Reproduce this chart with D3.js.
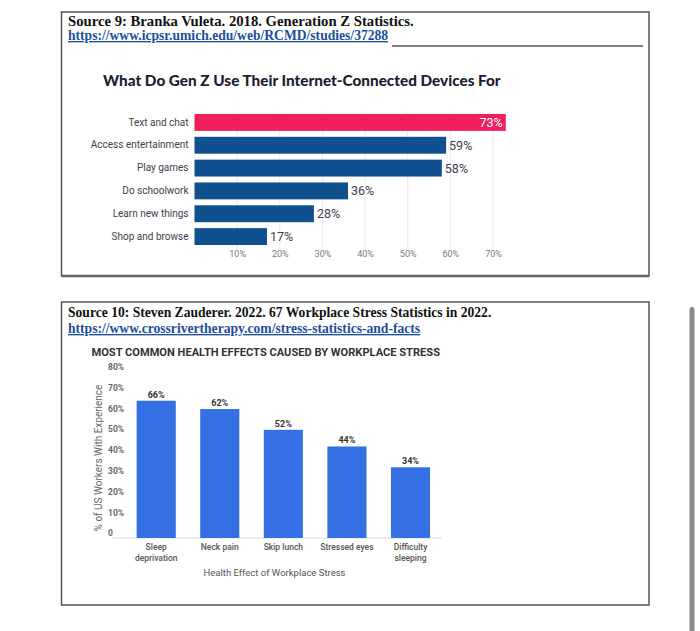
<!DOCTYPE html>
<html>
<head>
<meta charset="utf-8">
<script src="https://cdn.jsdelivr.net/npm/d3@7"></script>
<style>
  body { margin: 0; background: #fff; }
  svg { display: block; }
  .src { font-family: "Liberation Serif", "Times New Roman", serif; font-weight: bold; font-size: 13.6px; fill: #111; }
  .url { font-family: "Liberation Serif", "Times New Roman", serif; font-weight: bold; font-size: 13.6px; fill: #1f4e9c; text-decoration: underline; }
  .frame { fill: none; stroke: #555; stroke-width: 1.5; }
</style>
</head>
<body>
<div id="container"></div>
<script>
// Chart 1: what Gen Z use their devices for (percent)
var uses = ["Text and chat", "Access entertainment", "Play games", "Do schoolwork", "Learn new things", "Shop and browse"]
var useShare = [73, 59, 58, 36, 28, 17]
var useTicks = [10, 20, 30, 40, 50, 60, 70]

// Chart 2: health effects of workplace stress (percent)
var effects = ["Sleep deprivation", "Neck pain", "Skip lunch", "Stressed eyes", "Difficulty sleeping"]
var effectLines = [["Sleep", "deprivation"], ["Neck pain"], ["Skip lunch"], ["Stressed eyes"], ["Difficulty", "sleeping"]]
var effectShare = [66, 62, 52, 44, 34]
var effectTicks = [0, 10, 20, 30, 40, 50, 60, 70, 80]

var width = 700;
var height = 631;

var svg = d3.select("#container")
            .append("svg")
            .attr("width", width)
            .attr("height", height)

// ---------- frames and source captions ----------
svg.append("rect").attr("class", "frame").attr("x", 61.5).attr("y", 12).attr("width", 587.5).attr("height", 264)
svg.append("line").attr("x1", 62).attr("x2", 649).attr("y1", 276).attr("y2", 276).attr("stroke", "#666").attr("stroke-width", 2.5)
svg.append("line").attr("x1", 392).attr("x2", 643).attr("y1", 46).attr("y2", 46).attr("stroke", "#555").attr("stroke-width", 1.5)

svg.append("text").attr("class", "src").attr("x", 68).attr("y", 26).style("font-size", "14.7px").text("Source 9: Branka Vuleta. 2018. Generation Z Statistics.")
svg.append("text").attr("class", "url").attr("x", 68).attr("y", 40).text("https://www.icpsr.umich.edu/web/RCMD/studies/37288")

svg.append("rect").attr("class", "frame").attr("x", 61.5).attr("y", 302).attr("width", 587.5).attr("height", 303)
svg.append("text").attr("class", "src").attr("x", 68).attr("y", 317).text("Source 10: Steven Zauderer. 2022. 67 Workplace Stress Statistics in 2022.")
svg.append("text").attr("class", "url").attr("x", 68).attr("y", 333).text("https://www.crossrivertherapy.com/stress-statistics-and-facts")

// scrollbar of the screenshot
svg.append("rect").attr("x", 689.5).attr("y", 307).attr("width", 5).attr("height", 330).attr("rx", 2.5).attr("fill", "#8a8a8a")

// ---------- chart 1: horizontal bars ----------
svg.append("text")
   .attr("x", 103).attr("y", 86)
   .style("font-family", "Lato, 'Open Sans', sans-serif")
   .style("font-weight", "900")
   .style("font-size", "15.3px")
   .style("fill", "#1b1d33")
   .text("What Do Gen Z Use Their Internet-Connected Devices For")

var xScale = d3.scaleLinear().domain([0, 70]).range([194.5, 493])
var yScale = d3.scaleBand().domain(uses).range([111, 248]).paddingInner(0.26).paddingOuter(0.13)

var g1 = svg.append("g").style("font-family", "Roboto, sans-serif")

// vertical grid lines
g1.selectAll(".grid")
  .data(useTicks)
  .enter()
  .append("line")
  .attr("x1", (d) => xScale(d)).attr("x2", (d) => xScale(d))
  .attr("y1", 111).attr("y2", 249)
  .attr("stroke", "#e6e6e6").attr("stroke-width", 0.8)

var xAxis = d3.axisBottom(xScale).tickValues(useTicks).tickFormat((d) => d + "%").tickSize(0).tickPadding(0)
var xg = g1.append("g").attr("transform", "translate(0, 251)").call(xAxis)
xg.select(".domain").remove()
xg.selectAll("text").style("font-size", "9px").style("fill", "#7a7a82").style("font-family", "Roboto, sans-serif")

g1.selectAll(".bar1")
  .data(uses)
  .enter()
  .append("rect")
  .attr("x", xScale(0))
  .attr("y", (d) => yScale(d))
  .attr("width", (d, i) => xScale(useShare[i]) - xScale(0))
  .attr("height", yScale.bandwidth())
  .attr("fill", (d, i) => i === 0 ? "#f01e5a" : "#11508f")

var yAxis = d3.axisLeft(yScale).tickSize(0).tickPadding(6)
var yg = g1.append("g").attr("transform", "translate(" + xScale(0) + ", 0)").call(yAxis)
yg.select(".domain").remove()
yg.selectAll("text").style("font-size", "10px").style("fill", "#3c3e4e").style("font-family", "Roboto, sans-serif")

g1.selectAll(".val1")
  .data(uses)
  .enter()
  .append("text")
  .attr("x", (d, i) => i === 0 ? xScale(useShare[i]) - 3 : xScale(useShare[i]) + 3)
  .attr("y", (d) => yScale(d) + yScale.bandwidth() / 2)
  .attr("dy", "0.36em")
  .attr("text-anchor", (d, i) => i === 0 ? "end" : "start")
  .style("font-size", "12.5px")
  .style("fill", (d, i) => i === 0 ? "#ffffff" : "#3c3e4e")
  .text((d, i) => useShare[i] + "%")

// ---------- chart 2: vertical bars ----------
var g2 = svg.append("g").style("font-family", "Roboto, sans-serif")

g2.append("text")
  .attr("x", 91.5).attr("y", 355.5)
  .style("font-weight", "bold")
  .style("font-size", "11.1px")
  .style("fill", "#333")
  .text("MOST COMMON HEALTH EFFECTS CAUSED BY WORKPLACE STRESS")

var bx = d3.scaleBand().domain(effects).range([124.4, 442.3]).paddingInner(0.385).paddingOuter(0.1925)
var by = d3.scaleLinear().domain([0, 80]).range([538, 371.6])

// baseline
g2.append("line").attr("x1", 113).attr("x2", 442).attr("y1", by(0)).attr("y2", by(0)).attr("stroke", "#dcdcdc")

var yAxis2 = d3.axisLeft(by).tickValues(effectTicks).tickFormat((d) => d === 0 ? "0" : d + "%").tickSize(0)
var yg2 = g2.append("g").attr("transform", "translate(108, 0)").call(yAxis2)
yg2.select(".domain").remove()
yg2.selectAll("text")
   .attr("x", 0).attr("dy", "-0.25em")
   .attr("text-anchor", "start")
   .style("font-family", "Roboto, sans-serif")
   .style("font-size", "8.5px").style("font-weight", "bold").style("fill", "#666")

g2.selectAll(".bar2")
  .data(effects)
  .enter()
  .append("rect")
  .attr("x", (d) => bx(d))
  .attr("y", (d, i) => by(effectShare[i]))
  .attr("width", bx.bandwidth())
  .attr("height", (d, i) => by(0) - by(effectShare[i]))
  .attr("fill", "#3470e4")

g2.selectAll(".val2")
  .data(effects)
  .enter()
  .append("text")
  .attr("x", (d) => bx(d) + bx.bandwidth() / 2)
  .attr("y", (d, i) => by(effectShare[i]) - 3)
  .attr("text-anchor", "middle")
  .style("font-size", "9px").style("font-weight", "bold").style("fill", "#333")
  .text((d, i) => effectShare[i] + "%")

// category labels (some wrap onto two lines)
var cat = g2.selectAll(".cat")
  .data(effects)
  .enter()
  .append("text")
  .attr("text-anchor", "middle")
  .attr("x", (d) => bx(d) + bx.bandwidth() / 2)
  .attr("y", 550)
  .style("font-size", "8.5px").style("font-weight", "500").style("fill", "#555")
cat.selectAll("tspan")
   .data((d, i) => effectLines[i])
   .enter()
   .append("tspan")
   .attr("x", function() { return d3.select(this.parentNode).attr("x") })
   .attr("dy", (d, j) => j === 0 ? 0 : 11)
   .text((d) => d)

g2.append("text")
  .attr("x", 274.5).attr("y", 575.5)
  .attr("text-anchor", "middle")
  .style("font-size", "9.5px").style("fill", "#555")
  .text("Health Effect of Workplace Stress")

g2.append("text")
  .attr("transform", "translate(101.5, 458) rotate(-90)")
  .attr("text-anchor", "middle")
  .style("font-size", "10px").style("fill", "#666")
  .text("% of US Workers With Experience")
</script>
</body>
</html>
